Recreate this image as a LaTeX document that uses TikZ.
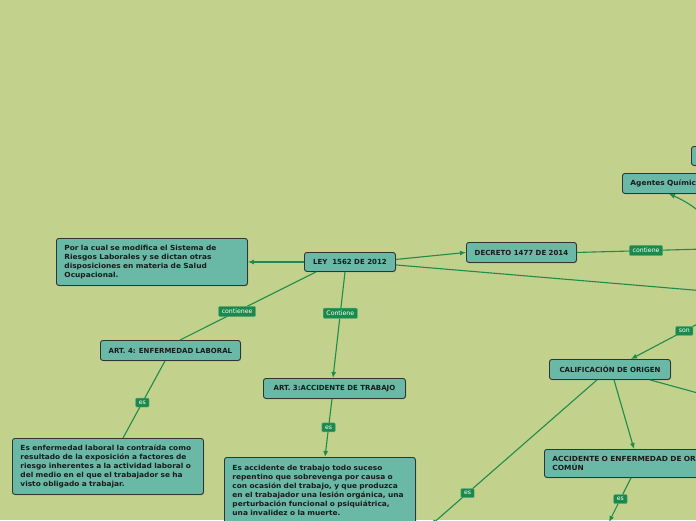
\documentclass[tikz,border=0pt]{standalone}
\usepackage{fontspec}
\setmainfont{DejaVu Sans}
\newfontfamily\widefont[FakeStretch=1.06]{DejaVu Sans}
\usetikzlibrary{arrows.meta,shadows}
\definecolor{bg}{HTML}{C2D18C}
\definecolor{nodefill}{HTML}{6AB9A6}
\definecolor{linegreen}{HTML}{1E8C4C}
\definecolor{lblgreen}{HTML}{1A8A4C}
\definecolor{txt}{HTML}{1A1A1A}
\tikzset{
  box/.style={draw=black!80, line width=0.9pt, rounded corners=2.5pt, fill=nodefill,
    text=txt, font=\bfseries\fontsize{7}{9}\selectfont, anchor=north west, inner sep=0pt,
    drop shadow={opacity=0.35, shadow xshift=0.8pt, shadow yshift=-0.8pt}},
  para/.style={box, font=\widefont\bfseries\fontsize{7}{9}\selectfont, align=left, inner xsep=8pt, inner ysep=6pt},
  conn/.style={draw=linegreen, line width=1.1pt},
  arr/.style={conn, -{Latex[length=6pt,width=5pt]}},
  lbl/.style={fill=lblgreen, text=white, font=\fontsize{6.2}{7}\selectfont, inner xsep=3.2pt,
    inner ysep=2.7pt, rounded corners=1pt, draw=lblgreen!70!white, line width=0.4pt}
}
\begin{document}
\begin{tikzpicture}[x=1pt,y=-1pt]
\fill[bg] (0,0) rectangle (696,520);
\useasboundingbox (0,0) rectangle (696,520);
\clip (0,0) rectangle (696,520);
% nodes
\node[box, minimum width=91pt, minimum height=19pt] (ley) at (304,252) {LEY\ \ 1562 DE 2012};
\node[para, text width=175pt, minimum height=47pt] (por) at (56,238)
  {Por la cual se modifica el Sistema de\\Riesgos Laborales y se dictan otras\\disposiciones en materia de Salud\\Ocupacional.};
\node[box, minimum width=110pt, minimum height=20pt] (dec) at (466,242) {DECRETO 1477 DE 2014};
\node[box, minimum width=140pt, minimum height=20pt] (art4) at (100,340) {ART. 4: ENFERMEDAD LABORAL};
\node[box, minimum width=142pt, minimum height=20pt] (art3) at (263,378) {ART. 3:ACCIDENTE DE TRABAJO};
\node[para, text width=175pt, minimum height=56pt] (esenf) at (12,438)
  {Es enfermedad laboral la contraída como\\resultado de la exposición a factores de\\riesgo inherentes a la actividad laboral o\\del medio en el que el trabajador se ha\\visto obligado a trabajar.};
\node[para, text width=175pt, minimum height=66pt] (esacc) at (224,457)
  {Es accidente de trabajo todo suceso\\repentino que sobrevenga por causa o\\con ocasión del trabajo, y que produzca\\en el trabajador una lesión orgánica, una\\perturbación funcional o psiquiátrica,\\una invalidez o la muerte.};
\node[para, minimum width=110pt, minimum height=20pt, inner ysep=0pt, text width=94pt] (agq) at (622,173) {Agentes Químicos};
\node[box, minimum width=60pt, minimum height=19pt] (top) at (691,146) {};
\node[box, minimum width=121pt, minimum height=20pt] (calif) at (549,359) {CALIFICACIÓN DE ORIGEN};
\node[para, text width=175pt, minimum height=28pt, inner ysep=5pt] (acc) at (544,449)
  {ACCIDENTE O ENFERMEDAD DE ORIGEN\\COMÚN};
% off-frame ends
\coordinate (o1) at (705,291);
\coordinate (o2) at (705,249);
\coordinate (o3) at (705,216);
\coordinate (o4) at (705,320);
\coordinate (o5) at (705,395);
\coordinate (o6) at (431,525);
\coordinate (o7) at (609,522);
% connectors
\draw[arr] (ley.west) -- (por.east);
\draw[arr] ([yshift=2.5pt]ley.east) -- (dec.west);
\draw[conn] ([yshift=-3pt]ley.east) -- (o1);
\draw[conn] ([xshift=12pt]ley.south west) -- node[lbl, pos=0.58] {contienee} ([xshift=80pt]art4.north west);
\draw[arr] ([xshift=41pt]ley.south west) -- node[lbl, pos=0.39] {Contiene} ([xshift=70pt]art3.north west);
\draw[conn] ([xshift=65pt]art4.south west) -- node[lbl, pos=0.54] {es} ([xshift=111pt]esenf.north west);
\draw[arr] ([xshift=69pt]art3.south west) -- node[lbl, pos=0.49] {es} ([xshift=101pt]esacc.north west);
\draw[conn] (dec.east) -- node[lbl, pos=0.54] {contiene} (o2);
\draw[arr] (o3) to[bend right=8] ([xshift=47pt]agq.south west);
\draw[arr] (o4) -- node[lbl, pos=0.28] {son} ([xshift=82pt]calif.north west);
\draw[arr] ([xshift=65pt]calif.south west) -- ([xshift=90pt]acc.north west);
\draw[conn] ([xshift=101pt]calif.south west) -- (o5);
\draw[arr] ([xshift=48pt]calif.south west) -- node[lbl, pos=0.78] {es} (o6);
\draw[arr] ([xshift=87pt]acc.south west) -- node[lbl, pos=0.48] {es} (o7);
\end{tikzpicture}
\end{document}
